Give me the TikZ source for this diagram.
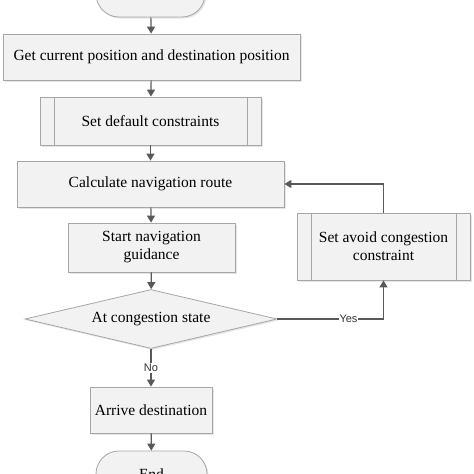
\documentclass[tikz,border=0pt]{standalone}
\usepackage{fontspec}
\setmainfont{Liberation Serif}
\newfontfamily\labelfont{Liberation Sans}
\usepackage{tikz}
\usetikzlibrary{shapes.geometric}
\usetikzlibrary{shapes.misc}
\usetikzlibrary{arrows.meta}
\usetikzlibrary{shadows}
\definecolor{boxfill}{HTML}{F2F2F2}
\definecolor{boxline}{HTML}{A6A6A6}
\definecolor{flowline}{HTML}{595959}
\tikzstyle{block}=[draw=boxline, fill=boxfill, line width=0.8pt, inner sep=0pt, font=\fontsize{15.5}{18}\selectfont, align=center, drop shadow={shadow xshift=1.5pt, shadow yshift=-1.5pt, fill=black!20}]
\tikzstyle{procbox}=[block, rectangle]
\tikzstyle{subproc}=[block, rectangle, path picture={
    \draw[boxline, line width=0.8pt] ([xshift=14pt]path picture bounding box.north west) -- ([xshift=14pt]path picture bounding box.south west);
    \draw[boxline, line width=0.8pt] ([xshift=-14pt]path picture bounding box.north east) -- ([xshift=-14pt]path picture bounding box.south east);}]
\tikzstyle{term}=[block, rounded rectangle]
\tikzstyle{decide}=[block, diamond, shape aspect=4.3]
\tikzstyle{flow}=[draw=flowline, line width=1.2pt, -{Triangle[length=7pt, width=8pt]}]
\tikzstyle{branch}=[font=\labelfont\fontsize{11}{13}\selectfont, text=black!80, fill=white, inner sep=1pt]

\begin{document}
\begin{tikzpicture}[x=1pt, y=-1pt]
    \useasboundingbox (0, 0) rectangle (474, 474);
    \node[term, minimum width=109pt, minimum height=46pt] (start) at (150.5, -6) {Start};
    \node[procbox, minimum width=297pt, minimum height=46pt] (getpos) at (151.5, 57) {Get current position and destination position};
    \node[subproc, minimum width=221pt, minimum height=48pt] (defcons) at (150.5, 121) {Set default constraints};
    \node[procbox, minimum width=267pt, minimum height=46pt] (route) at (150.5, 184) {Calculate navigation route};
    \node[procbox, minimum width=167pt, minimum height=49pt] (guide) at (151.5, 247.5) {Start navigation\\guidance};
    \node[subproc, minimum width=173pt, minimum height=67pt] (avoid) at (383.5, 246.5) {Set avoid congestion\\constraint};
    \node[decide, minimum width=252pt, minimum height=59pt] (congest) at (151, 319) {At congestion state};
    \node[procbox, minimum width=122pt, minimum height=46pt] (arrive) at (151, 410) {Arrive destination};
    \node[term, minimum width=111pt, minimum height=46pt] (finish) at (151.5, 474) {End};
    \draw[flow] (start) -- (getpos);
    \draw[flow] (getpos) -- (defcons);
    \draw[flow] (defcons) -- (route);
    \draw[flow] (route) -- (guide);
    \draw[flow] (guide) -- (congest);
    \draw[flow] (congest.south) -- node[branch] (no) {No} (arrive.north);
    \draw[flow] (arrive) -- (finish);
    \draw[flow] (congest.east) -- node[branch, pos=0.67] (yes) {Yes} (congest.east -| avoid.south) -- (avoid.south);
    \draw[flow] (avoid.north) -- (avoid.north |- route.east) -- (route.east);
\end{tikzpicture}
\end{document}
